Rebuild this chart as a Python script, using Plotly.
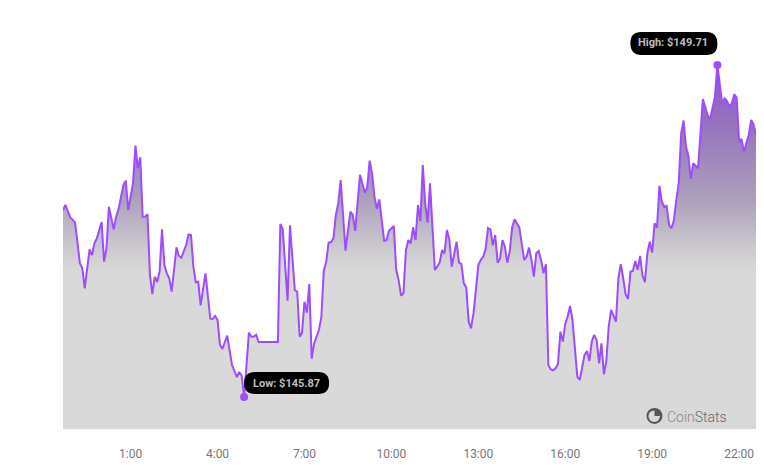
import pandas as pd
import plotly.graph_objects as go

# samples are 5 minutes apart, only the turning points of the line are kept
start_time = "2024-01-01 22:40"
end_time = "2024-01-02 22:35"
tick_start = "2024-01-02 01:00"
steps = [
    0, 1, 3, 5, 7, 8, 9, 11, 12, 13, 14, 16, 17, 18, 19, 21, 22, 23, 25, 26,
    27, 29, 30, 31, 32, 33, 34, 35, 36, 37, 38, 39, 40, 41, 42, 43, 44, 45, 47, 48,
    49, 51, 52, 53, 54, 55, 56, 57, 59, 60, 61, 62, 63, 64, 65, 66, 68, 70, 72, 73,
    74, 75, 77, 78, 79, 80, 81, 89, 90, 91, 93, 94, 96, 97, 98, 99, 100, 101, 102, 103,
    104, 106, 107, 108, 109, 110, 111, 112, 113, 114, 115, 117, 119, 120, 121, 123, 125, 126, 127, 128,
    129, 130, 131, 133, 134, 135, 137, 138, 139, 140, 141, 142, 143, 144, 145, 146, 147, 148, 149, 150,
    151, 152, 154, 156, 157, 158, 159, 160, 161, 163, 164, 165, 166, 167, 168, 169, 170, 171, 172, 173,
    174, 175, 176, 177, 178, 179, 180, 181, 182, 183, 184, 185, 186, 187, 189, 191, 192, 193, 194, 195,
    196, 197, 198, 199, 200, 201, 202, 203, 204, 205, 206, 207, 208, 209, 210, 211, 213, 214, 215, 216,
    217, 218, 219, 220, 221, 222, 223, 224, 225, 226, 227, 228, 229, 230, 231, 232, 233, 234, 235, 236,
    237, 238, 239, 240, 241, 242, 243, 244, 245, 246, 247, 248, 249, 250, 251, 252, 253, 254, 255, 256,
    257, 258, 259, 260, 261, 263, 265, 267, 268, 270, 271, 273, 274, 275, 276, 277, 278, 279, 280, 281,
    282, 284, 285, 286, 287,
]
prices = [
    148.033, 148.091, 147.948, 147.890, 147.416, 147.358, 147.127, 147.578, 147.512, 147.647,
    147.705, 147.894, 147.435, 147.589, 148.071, 147.809, 147.956, 148.041, 148.322, 148.372,
    148.033, 148.341, 148.777, 148.515, 148.642, 147.956, 147.956, 147.983, 147.281, 147.061,
    147.258, 147.200, 147.320, 147.809, 147.397, 147.300, 147.243, 147.088, 147.601, 147.501,
    147.482, 147.628, 147.751, 147.744, 147.377, 147.196, 147.204, 146.930, 147.300, 147.069,
    146.776, 146.772, 146.807, 146.761, 146.479, 146.425, 146.579, 146.240, 146.101, 146.159,
    146.117, 145.87, 146.614, 146.568, 146.568, 146.591, 146.506, 146.506, 147.871, 147.809,
    146.984, 147.855, 147.107, 147.088, 146.568, 146.614, 146.972, 146.845, 147.177, 146.313,
    146.490, 146.645, 146.799, 147.331, 147.435, 147.655, 147.662, 147.705, 147.975, 148.110,
    148.379, 147.562, 148.013, 147.975, 147.793, 148.441, 148.233, 148.295, 148.603, 148.456,
    148.187, 148.048, 148.156, 147.678, 147.685, 147.793, 147.847, 147.339, 147.223, 147.042,
    147.069, 147.562, 147.685, 147.647, 147.832, 147.685, 148.090, 147.905, 148.553, 148.110,
    147.886, 148.341, 147.339, 147.423, 147.570, 147.531, 147.801, 147.693, 147.377, 147.666,
    147.423, 147.408, 147.184, 147.138, 146.741, 146.664, 146.837, 147.107, 147.396, 147.454,
    147.493, 147.578, 147.824, 147.809, 147.624, 147.743, 147.423, 147.473, 147.685, 147.608,
    147.423, 147.551, 147.832, 147.925, 147.828, 147.454, 147.494, 147.598, 147.455, 147.262,
    147.532, 147.559, 147.455, 147.301, 147.405, 146.241, 146.191, 146.179, 146.202, 146.256,
    146.626, 146.511, 146.715, 146.800, 146.923, 146.761, 146.106, 146.067, 146.222, 146.357,
    146.403, 146.287, 146.511, 146.588, 146.530, 146.260, 146.491, 146.133, 146.279, 146.684,
    146.877, 146.819, 146.742, 147.243, 147.405, 147.243, 147.058, 147.004, 147.320, 147.328,
    147.444, 147.340, 147.501, 147.274, 147.197, 147.532, 147.667, 147.540, 147.879, 147.829,
    148.311, 148.130, 148.068, 148.080, 147.860, 147.821, 147.918, 148.149, 148.342, 148.920,
    149.067, 148.766, 148.658, 148.392, 148.573, 148.515, 149.317, 149.124, 149.082, 149.344,
    149.71, 149.263, 149.325, 149.294, 149.229, 149.267, 149.371, 149.333, 148.816, 148.855,
    148.708, 148.901, 149.074, 149.024, 148.901,
]

line_color = "#9d4dff"
font_name = "Roboto"

times = pd.Timestamp(start_time) + pd.to_timedelta([s * 5 for s in steps], unit="min")
high = max(prices)
low = min(prices)
high_time = times[prices.index(high)]
low_time = times[prices.index(low)]

fig = go.Figure()
fig.add_trace(go.Scatter(
    x=times, y=prices, mode="lines", fill="tozeroy",
    line=dict(color=line_color, width=2),
    fillgradient=dict(
        type="vertical", start=high, stop=147.316,
        colorscale=[
            [0, "rgb(138,86,208)"],
            [0.31, "rgb(152,118,188)"],
            [0.65, "rgb(172,160,186)"],
            [0.89, "rgb(205,202,208)"],
            [1, "rgb(217,217,217)"],
        ],
    ),
    hoverinfo="skip", showlegend=False,
))
fig.add_trace(go.Scatter(
    x=[low_time, high_time], y=[low, high], mode="markers",
    marker=dict(color=line_color, size=8),
    hoverinfo="skip", showlegend=False,
))


def pill(x, y, left, right, bottom, top, r=11):
    return dict(
        type="path", xref="x", yref="y", xsizemode="pixel", ysizemode="pixel",
        xanchor=x, yanchor=y, fillcolor="#000000", line=dict(width=0), layer="above",
        path=(f"M {left + r} {bottom} L {right - r} {bottom} Q {right} {bottom} {right} {bottom + r} "
              f"Q {right} {top} {right - r} {top} L {left + r} {top} Q {left} {top} {left} {top - r} "
              f"Q {left} {bottom} {left + r} {bottom} Z"),
    )


fig.add_shape(**pill(low_time, low, 0, 85, 3, 25))
fig.add_shape(**pill(high_time, high, -87, 0, 10, 33))

label_font = dict(family=font_name, size=11, color="#bdbdbd", weight=700)
fig.add_annotation(x=low_time, y=low, text=f"Low: ${low:.2f}", showarrow=False,
                   xshift=42, yshift=14, font=label_font)
fig.add_annotation(x=high_time, y=high, text=f"High: ${high:.2f}", showarrow=False,
                   xshift=-44, yshift=22, font=label_font)

# watermark
logo_x = 0.8535
logo_y = 0.032
logo = dict(xref="paper", yref="paper", xsizemode="pixel", ysizemode="pixel",
            xanchor=logo_x, yanchor=logo_y, line=dict(width=0), layer="above")
fig.add_shape(type="circle", x0=-8, x1=8, y0=-8, y1=8, fillcolor="#555555", **logo)
fig.add_shape(type="circle", x0=-6, x1=5.5, y0=-6, y1=5.5, fillcolor="#d9d9d9", **logo)
fig.add_shape(type="path", path="M 0 0 L 0 7 Q 7 7 7 0 Z", fillcolor="#555555", **logo)
fig.add_annotation(
    xref="paper", yref="paper", x=0.868, y=0.03, xanchor="left", yanchor="middle", showarrow=False,
    text='<span style="color:#888888">Coin</span><span style="color:#666666">Stats</span>',
    font=dict(family=font_name, size=14, weight=300),
)

fig.update_xaxes(
    type="date", range=[start_time, end_time], tick0=tick_start, dtick=3 * 3600 * 1000,
    tickformat="%-H:%M", showgrid=False, zeroline=False, showline=False, ticks="",
    tickfont=dict(family=font_name, size=12, color="#777777"), ticklabelstandoff=16,
)
fig.update_yaxes(range=[145.5, 150.23], visible=False, showgrid=False, zeroline=False)
# the page keeps its 8px body margin, so the figure is 8px smaller than the window each way
fig.update_layout(
    width=756, height=464, margin=dict(l=55, r=8, t=12, b=43),
    paper_bgcolor="white", plot_bgcolor="white", showlegend=False, hovermode=False,
)

fig.write_html("out.html", config=dict(displayModeBar=False))
